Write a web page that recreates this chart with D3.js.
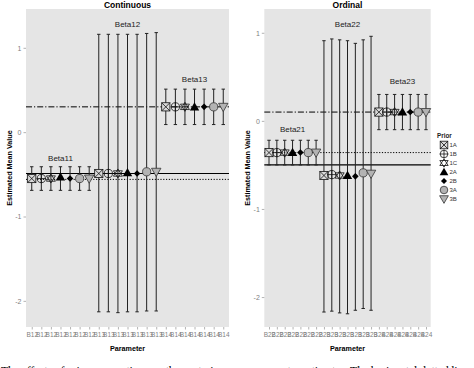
<!DOCTYPE html>
<html>
<head>
<meta charset="utf-8">
<script src="https://cdn.jsdelivr.net/npm/d3@7"></script>
<style>
  body { margin: 0; background: #fff; }
  svg { display: block; font-family: "Liberation Sans", Arial, sans-serif; }
  .tick-label { fill: #7f7f7f; font-size: 7px; }
  .x-label { fill: #7f7f7f; font-size: 6.5px; }
  .panel-title { font-weight: bold; font-size: 8.5px; }
  .axis-title { font-weight: bold; font-size: 7.2px; }
  .group-label { fill: #222; font-size: 8px; }
  .legend-text { fill: #333; font-size: 6px; }
</style>
</head>
<body>
<svg width="474" height="368"></svg>
<script>
const priors = ["1A", "1B", "1C", "2A", "2B", "3A", "3B"];

const contCategories = ["B12", "B13", "B14"];
const ordCategories = ["B22", "B23", "B24"];
const contGroups = ["Beta11", "Beta12", "Beta13"];
const ordGroups = ["Beta21", "Beta22", "Beta23"];

const contMean = [
  -0.55, -0.55, -0.55, -0.53, -0.55, -0.55, -0.55,
  -0.49, -0.49, -0.49, -0.48, -0.49, -0.47, -0.47,
  0.30, 0.30, 0.30, 0.30, 0.30, 0.30, 0.30
];
const contLower = [
  -0.69, -0.69, -0.69, -0.69, -0.69, -0.69, -0.69,
  -2.13, -2.13, -2.14, -2.13, -2.13, -2.12, -2.12,
  0.09, 0.09, 0.09, 0.09, 0.09, 0.09, 0.09
];
const contUpper = [
  -0.41, -0.41, -0.41, -0.41, -0.41, -0.41, -0.41,
  1.16, 1.16, 1.16, 1.16, 1.16, 1.17, 1.18,
  0.51, 0.51, 0.51, 0.51, 0.51, 0.51, 0.51
];

const ordMean = [
  -0.36, -0.36, -0.36, -0.36, -0.36, -0.36, -0.36,
  -0.62, -0.61, -0.62, -0.62, -0.63, -0.59, -0.60,
  0.10, 0.10, 0.10, 0.10, 0.10, 0.10, 0.10
];
const ordLower = [
  -0.50, -0.50, -0.50, -0.50, -0.50, -0.50, -0.50,
  -2.17, -2.16, -2.18, -2.19, -2.15, -2.13, -2.15,
  -0.10, -0.10, -0.10, -0.10, -0.10, -0.10, -0.10
];
const ordUpper = [
  -0.22, -0.22, -0.22, -0.22, -0.22, -0.22, -0.22,
  0.91, 0.93, 0.92, 0.91, 0.88, 0.92, 0.96,
  0.30, 0.30, 0.30, 0.30, 0.30, 0.30, 0.30
];

// reference lines: solid, dotted, dash-dot
const contLines = [-0.49, -0.56, 0.30];
const ordLines = [-0.50, -0.36, 0.10];

// y of the group labels (baseline, data units)
const contLabelY = [-0.34, 1.25, 0.60];
const ordLabelY = [-0.13, 1.07, 0.42];

const yTicks = [1, 0, -1, -2];

const svg = d3.select("svg");

function drawShape(g, prior, r) {
  const s = r;
  if (prior === "1A") {
    g.append("rect").attr("x", -s).attr("y", -s).attr("width", 2 * s).attr("height", 2 * s)
      .attr("fill", "#d9d9d9").attr("stroke", "#111").attr("stroke-width", 0.8);
    g.append("path").attr("d", `M${-s},${-s}L${s},${s}M${-s},${s}L${s},${-s}`)
      .attr("stroke", "#111").attr("stroke-width", 0.8);
  } else if (prior === "1B") {
    g.append("circle").attr("r", s).attr("fill", "none").attr("stroke", "#111").attr("stroke-width", 0.8);
    g.append("path").attr("d", `M${-s - 0.6},0H${s + 0.6}M0,${-s - 0.6}V${s + 0.6}`)
      .attr("stroke", "#111").attr("stroke-width", 0.8);
  } else if (prior === "1C") {
    const h = s * 1.1;
    g.append("path")
      .attr("d", `M0,${-h}L${h},${h * 0.6}L${-h},${h * 0.6}Z M0,${h}L${h},${-h * 0.6}L${-h},${-h * 0.6}Z`)
      .attr("fill", "none").attr("stroke", "#111").attr("stroke-width", 0.8);
  } else if (prior === "2A") {
    const h = s * 1.15;
    g.append("path").attr("d", `M0,${-h}L${h},${h * 0.75}L${-h},${h * 0.75}Z`).attr("fill", "#000");
  } else if (prior === "2B") {
    const h = s * 0.8;
    g.append("path").attr("d", `M0,${-h}L${h},0L0,${h}L${-h},0Z`).attr("fill", "#000");
  } else if (prior === "3A") {
    g.append("circle").attr("r", s).attr("fill", "#b3b3b3").attr("stroke", "#333").attr("stroke-width", 0.8);
  } else {
    const h = s * 1.15;
    g.append("path").attr("d", `M${-h},${-h * 0.75}L${h},${-h * 0.75}L0,${h}Z`)
      .attr("fill", "#b3b3b3").attr("stroke", "#333").attr("stroke-width", 0.8);
  }
}

function drawPanel(opt) {
  const cats = [];
  opt.categories.forEach(c => priors.forEach(() => cats.push(c)));
  const idx = d3.range(cats.length);

  const x = d3.scalePoint().domain(idx).range([opt.x0, opt.x1]).padding(0.6);
  const y = d3.scaleLinear().domain(opt.yDomain).range([327, 9]);

  const g = svg.append("g");

  g.append("rect")
    .attr("x", opt.x0).attr("y", 9)
    .attr("width", opt.x1 - opt.x0).attr("height", 318)
    .attr("fill", "#e5e5e5");

  // y axis
  const yAxis = g.append("g").attr("transform", `translate(${opt.x0},0)`)
    .call(d3.axisLeft(y).tickValues(yTicks).tickSize(2.5).tickPadding(2).tickFormat(d => String(d).replace("\u2212", "-")));
  yAxis.select(".domain").remove();
  yAxis.selectAll("line").attr("stroke", "#7f7f7f").attr("stroke-width", 0.6);
  yAxis.selectAll("text").attr("class", "tick-label").attr("font-size", null).attr("font-family", null);

  // x axis
  const xAxis = g.append("g").attr("transform", "translate(0,327)")
    .call(d3.axisBottom(x).tickSize(2.5).tickPadding(2.5).tickFormat(i => cats[i]));
  xAxis.select(".domain").remove();
  xAxis.selectAll("line").attr("stroke", "#7f7f7f").attr("stroke-width", 0.6);
  xAxis.selectAll("text").attr("class", "x-label").attr("font-size", null).attr("font-family", null);

  // reference lines
  const dashes = [null, "1.2,1.6", "6,2,1.2,2"];
  g.selectAll("line.ref")
    .data(opt.lines)
    .enter()
    .append("line")
    .attr("class", "ref")
    .attr("x1", opt.x0).attr("x2", opt.x1)
    .attr("y1", d => y(d)).attr("y2", d => y(d))
    .attr("stroke", "#000")
    .attr("stroke-width", (d, i) => i === 0 ? 1.1 : 1)
    .attr("stroke-dasharray", (d, i) => dashes[i]);

  // error bars
  const bars = g.selectAll("g.bar")
    .data(idx)
    .enter()
    .append("g")
    .attr("class", "bar")
    .attr("transform", i => `translate(${x(i)},0)`);

  bars.append("line")
    .attr("y1", i => y(opt.lower[i])).attr("y2", i => y(opt.upper[i]))
    .attr("stroke", "#222").attr("stroke-width", 1);
  bars.append("path")
    .attr("d", i => `M-1.7,${y(opt.lower[i])}H1.7M-1.7,${y(opt.upper[i])}H1.7`)
    .attr("stroke", "#222").attr("stroke-width", 1);

  // points
  bars.each(function (i) {
    const p = d3.select(this).append("g").attr("transform", `translate(0,${y(opt.mean[i])})`);
    drawShape(p, priors[i % priors.length], 4.1);
  });

  // group labels
  g.selectAll("text.group")
    .data(opt.groups)
    .enter()
    .append("text")
    .attr("class", "group-label")
    .attr("text-anchor", "middle")
    .attr("x", (d, k) => x(k * priors.length + 3))
    .attr("y", (d, k) => y(opt.labelY[k]))
    .text(d => d);

  const cx = (opt.x0 + opt.x1) / 2;
  g.append("text").attr("class", "panel-title").attr("text-anchor", "middle")
    .attr("x", cx).attr("y", 7.5).text(opt.title);
  g.append("text").attr("class", "axis-title").attr("text-anchor", "middle")
    .attr("x", cx).attr("y", 351).text("Parameter");
  g.append("text").attr("class", "axis-title").attr("text-anchor", "middle")
    .attr("transform", `translate(${opt.yTitleX},168) rotate(-90)`).text("Estimated Mean Value");
}

drawPanel({
  title: "Continuous",
  categories: contCategories,
  groups: contGroups,
  mean: contMean, lower: contLower, upper: contUpper,
  lines: contLines, labelY: contLabelY,
  x0: 26, x1: 229, yDomain: [-2.31, 1.46], yTitleX: 12
});

drawPanel({
  title: "Ordinal",
  categories: ordCategories,
  groups: ordGroups,
  mean: ordMean, lower: ordLower, upper: ordUpper,
  lines: ordLines, labelY: ordLabelY,
  x0: 264.3, x1: 430.7, yDomain: [-2.34, 1.27], yTitleX: 250
});

// legend
const legend = svg.append("g").attr("transform", "translate(437,0)");
legend.append("text").attr("x", 0).attr("y", 137.5)
  .attr("font-size", "6.3px").attr("font-weight", "bold").attr("fill", "#222").text("Prior");
const items = legend.selectAll("g.item")
  .data(priors)
  .enter()
  .append("g")
  .attr("class", "item")
  .attr("transform", (d, i) => `translate(7,${145 + i * 9})`);
items.each(function (d) { drawShape(d3.select(this), d, 3.8); });
items.append("text").attr("class", "legend-text").attr("x", 5.5).attr("y", 2.2).text(d => d);

// caption of the source figure, cut off by the frame
svg.append("text")
  .attr("x", 1).attr("y", 374.5)
  .attr("font-family", "'Liberation Serif', serif").attr("font-size", "12px")
  .attr("textLength", 472).attr("lengthAdjust", "spacing")
  .text("The effects of prior assumptions on the posterior mean parameter estimates. The horizontal dotted lines");
</script>
</body>
</html>
